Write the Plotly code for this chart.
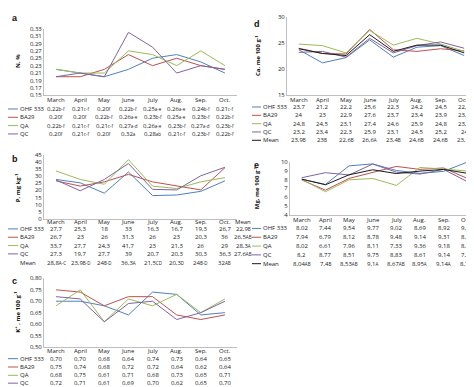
import plotly.graph_objects as go

W, H = 474, 387
months = ["March", "April", "May", "June", "July", "Aug.", "Sep.", "Oct."]
series = ["OHF 333", "BA29", "QA", "QC"]
colors = {"OHF 333": "#4F81BD", "BA29": "#C0504D", "QA": "#9BBB59", "QC": "#8064A2", "Mean": "#1a1a1a"}

# Panel a: N, %
a_vals = {
    "OHF 333": [0.22, 0.21, 0.20, 0.22, 0.25, 0.26, 0.24, 0.21],
    "BA29":    [0.20, 0.20, 0.22, 0.26, 0.23, 0.25, 0.23, 0.22],
    "QA":      [0.22, 0.21, 0.21, 0.27, 0.26, 0.23, 0.27, 0.23],
    "QC":      [0.20, 0.21, 0.20, 0.32, 0.28, 0.21, 0.23, 0.22],
}
a_letters = {
    "OHF 333": ["b-f", "c-f", "f", "b-f", "a-e", "a-e", "b-f", "c-f"],
    "BA29":    ["f", "f", "b-f", "a-e", "b-f", "a-e", "b-f", "b-f"],
    "QA":      ["b-f", "c-f", "c-f", "a-d", "a-e", "b-f", "a-d", "b-f"],
    "QC":      ["f", "c-f", "f", "a", "ab", "c-f", "b-f", "b-f"],
}
# Panel b: P, mg kg-1
b_vals = {
    "OHF 333": [27.7, 25.3, 18, 33, 16.3, 16.7, 19.3, 26.7],
    "BA29":    [26.7, 23, 26, 31.3, 26, 23, 20.3, 36],
    "QA":      [33.7, 27.7, 24.3, 41.7, 23, 21.3, 26, 29],
    "QC":      [27.3, 19.7, 27.7, 39, 20.7, 20.3, 30.3, 36.3],
}
b_mean_row = [28.8, 23.9, 24, 36.3, 21.5, 20.3, 24, 32]
b_mean_row_letters = ["A-C", "B-D", "B-D", "A", "CD", "D", "B-D", "AB"]
b_mean_col = {"OHF 333": 22.9, "BA29": 26.5, "QA": 28.3, "QC": 27.6}
b_mean_col_letters = {"OHF 333": "B", "BA29": "AB", "QA": "A", "QC": "AB"}
# Panel c: K+, me 100 g-1
c_vals = {
    "OHF 333": [0.70, 0.70, 0.68, 0.64, 0.74, 0.73, 0.64, 0.65],
    "BA29":    [0.75, 0.74, 0.68, 0.72, 0.72, 0.64, 0.62, 0.64],
    "QA":      [0.68, 0.75, 0.61, 0.71, 0.68, 0.73, 0.65, 0.71],
    "QC":      [0.72, 0.71, 0.61, 0.69, 0.70, 0.62, 0.65, 0.70],
}
# Panel d: Ca, me 100 g-1
d_vals = {
    "OHF 333": [23.7, 21.2, 22.2, 25.6, 22.3, 24.2, 24.5, 22.6],
    "BA29":    [24, 23, 22.9, 27.6, 23.7, 23.4, 23.9, 23.5],
    "QA":      [24.8, 24.5, 23.1, 27.4, 24.6, 25.9, 24.8, 23.4],
    "QC":      [23.2, 23.4, 22.3, 25.9, 23.1, 24.5, 25.2, 24],
    "Mean":    [23.9, 23, 22.6, 26.6, 23.4, 24.6, 24.6, 23.1],
}
d_mean_letters = ["B", "B", "B", "A", "B", "B", "B", "B"]
# Panel e: Mg, me 100 g-1
e_vals = {
    "OHF 333": [8.02, 7.44, 9.54, 9.77, 9.02, 8.69, 8.92, 9.96],
    "BA29":    [7.94, 6.79, 8.12, 8.78, 9.48, 9.14, 9.31, 8.12],
    "QA":      [8.02, 6.61, 7.96, 8.11, 7.33, 9.36, 9.18, 8.95],
    "QC":      [8.2, 8.77, 8.51, 9.75, 8.83, 8.61, 9.14, 7.76],
    "Mean":    [8.04, 7.4, 8.53, 9.1, 8.67, 8.95, 9.14, 8.7],
}
e_mean_letters = ["AB", "B", "AB", "A", "AB", "A", "A", "AB"]

FONT = "Open Sans"
FS = 6
TXT = "#222222"


def fmt(v, dec=None):
    s = f"{v:.{dec}f}" if dec is not None else f"{v:g}"
    return s.replace(".", ",")


def small(s):
    return f"<span style='font-size:4.5px'>{s}</span>" if s else ""


def px(x):
    return x / W


def py(y):
    return 1 - y / H


def note(text, xref, x, y, xanchor="center", size=FS, color=TXT, family=FONT, **kw):
    d = dict(text=text, xref=xref, yref="paper", x=x, y=y, xanchor=xanchor, yanchor="middle",
             showarrow=False, borderpad=0, font=dict(size=size, color=color, family=family))
    d.update(kw)
    return d


panels = [
    dict(k="", x0=36, x1=229, yt=17, yb=85, rng=[0.15, 0.33], dt=0.02, tf=".2f",
         title="N, %", lab="a", lx=3, ly=6, tx=10, ty=50, my=89.5),
    dict(k="2", x0=36, x1=229, yt=146, yb=211, rng=[0, 45], dt=5, tf="",
         title="P, mg kg<sup>-1</sup>", lab="b", lx=3, ly=150, tx=10, ty=180, my=214.5),
    dict(k="3", x0=36, x1=229, yt=272, yb=342, rng=[0.5, 0.8], dt=0.05, tf=".2f",
         title="K<sup>+</sup> , me 100 g<sup>-1</sup>", lab="c", lx=3, ly=275, tx=10, ty=307, my=346.5),
    dict(k="4", x0=279, x1=468, yt=5, yb=85, rng=[15, 30], dt=5, tf="",
         title="Ca, me 100 g<sup>-1</sup>", lab="d", lx=245, ly=12, tx=250, ty=45, my=89.5),
    dict(k="5", x0=282, x1=471, yt=153, yb=207, rng=[4, 10], dt=1, tf="",
         title="Mg, me 100 g<sup>-1</sup>", lab="e", lx=245, ly=156, tx=249, ty=180, my=212),
]

fig = go.Figure()
layout = dict(width=W, height=H, margin=dict(l=0, r=0, t=0, b=0),
              paper_bgcolor="white", plot_bgcolor="white", showlegend=False,
              separators=",.", font=dict(family=FONT, size=FS, color=TXT))
annotations = []
shapes = []

for p in panels:
    k = p["k"]
    layout["xaxis" + k] = dict(domain=[px(p["x0"]), px(p["x1"])], anchor="y" + k,
                               type="category", categoryarray=months, categoryorder="array",
                               range=[-0.5, 7.5], showline=True, linecolor="#bfbfbf", linewidth=1,
                               showgrid=False, zeroline=False, ticks="", showticklabels=False,
                               fixedrange=True)
    layout["yaxis" + k] = dict(domain=[py(p["yb"]), py(p["yt"])], anchor="x" + k,
                               range=p["rng"], dtick=p["dt"], tick0=p["rng"][0], tickformat=p["tf"],
                               showline=True, linecolor="#bfbfbf", linewidth=1,
                               showgrid=False, zeroline=False, ticks="", ticklen=0,
                               tickfont=dict(size=FS, color=TXT, family=FONT), fixedrange=True)
    annotations.append(note(f"<b>{p['lab']}</b>", "paper", px(p["lx"]), py(p["ly"]),
                            xanchor="left", size=9, color="#111111", family="Liberation Sans"))
    annotations.append(note(f"<b>{p['title']}</b>", "paper", px(p["tx"]), py(p["ty"]),
                            size=6, color="#111111", textangle=-90))
    for m in months:
        annotations.append(note(m, "x" + k, m, py(p["my"])))


def add_panel(k, vals, rows_y, cell_text, lx0, lx1, line_rows):
    for name in vals:
        fig.add_trace(go.Scatter(x=months, y=vals[name], mode="lines",
                                 line=dict(color=colors[name], width=1),
                                 xaxis="x" + k, yaxis="y" + k, hoverinfo="skip"))
    for name, yy in zip(cell_text.keys(), rows_y):
        if name in line_rows:
            shapes.append(dict(type="line", xref="paper", yref="paper",
                               x0=px(lx0), x1=px(lx1), y0=py(yy), y1=py(yy),
                               line=dict(color=colors[name], width=1)))
        annotations.append(note(name, "paper", px(lx1 + 1), py(yy), xanchor="left"))
        for m, t in zip(months, cell_text[name]):
            annotations.append(note(t, "x" + k, m, py(yy)))


# a
a_text = {n: [fmt(v, 2) + small(l) for v, l in zip(a_vals[n], a_letters[n])] for n in series}
add_panel("", a_vals, [99, 107.5, 116, 124.5], a_text, 0, 10, series)
# b
b_text = {n: [fmt(v) for v in b_vals[n]] for n in series}
b_text["Mean"] = [fmt(v) + small(l) for v, l in zip(b_mean_row, b_mean_row_letters)]
add_panel("2", b_vals, [221.5, 230, 238.5, 247, 256.5], b_text, 0, 10, series)
annotations.append(note("Mean", "paper", px(235), py(214.5)))
for n, yy in zip(series, [221.5, 230, 238.5, 247]):
    annotations.append(note(fmt(b_mean_col[n]) + small(b_mean_col_letters[n]), "paper", px(235), py(yy)))
# c
c_text = {n: [fmt(v, 2) for v in c_vals[n]] for n in series}
add_panel("3", c_vals, [354, 362.5, 371, 379], c_text, 0, 10, series)
# d
d_text = {n: [fmt(v) for v in d_vals[n]] for n in series}
d_text["Mean"] = [fmt(v) + small(l) for v, l in zip(d_vals["Mean"], d_mean_letters)]
add_panel("4", d_vals, [97, 105.5, 114, 122.5, 131], d_text, 244, 253, series + ["Mean"])
# e
e_text = {n: [fmt(v) for v in e_vals[n]] for n in series}
e_text["Mean"] = [fmt(v) + small(l) for v, l in zip(e_vals["Mean"], e_mean_letters)]
add_panel("5", e_vals, [221, 230, 239, 248, 257], e_text, 244, 253, series + ["Mean"])

layout["annotations"] = annotations
layout["shapes"] = shapes
fig.update_layout(**layout)
fig.write_html("out.html")
